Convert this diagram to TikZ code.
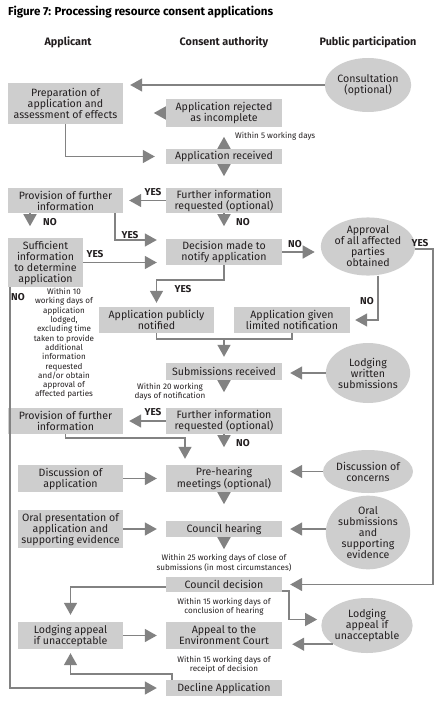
\documentclass[tikz,border=0pt]{standalone}
\usepackage{fontspec}
\setmainfont{Fira Sans}
\usetikzlibrary{arrows.meta,shapes.geometric}
\definecolor{boxgray}{RGB}{206,206,206}
\definecolor{linegray}{RGB}{130,130,130}
\definecolor{txt}{RGB}{35,31,32}
\begin{document}
\begin{tikzpicture}[x=1pt,y=-1pt,
  every node/.style={text=txt},
  box/.style={fill=boxgray, inner sep=0pt, align=center, font=\fontsize{10.6}{11}\selectfont},
  ell/.style={ellipse, fill=boxgray, inner sep=0pt, align=center, font=\fontsize{10.6}{11}\selectfont},
  arr/.style={draw=linegray, line width=1.5pt, -{Triangle[length=12pt,width=13pt]}},
  ln/.style={draw=linegray, line width=1.5pt},
  yn/.style={font=\bfseries\fontsize{10}{11}\selectfont, inner sep=0pt},
  note/.style={font=\fontsize{8.1}{9.3}\selectfont, align=center, inner sep=0pt},
  head/.style={font=\bfseries\fontsize{10.8}{12}\selectfont, inner sep=0pt}]
\useasboundingbox[fill=white] (0,0) rectangle (440,701);

\node[font=\bfseries\fontsize{11.6}{13}\selectfont, anchor=west, inner sep=0pt, text=black] (title) at (8,12) {Figure 7: Processing resource consent applications};
\node[head] (hA) at (68,42) {Applicant};
\node[head] (hC) at (224,42) {Consent authority};
\node[head] (hP) at (368,42) {Public participation};

% boxes
\node[box, minimum width=115pt, minimum height=41pt] (prep) at (65.5,103.5) {Preparation of\\application and\\assessment of effects};
\node[box, minimum width=116pt, minimum height=28pt] (rej) at (224,113) {Application rejected\\as incomplete};
\node[box, minimum width=116pt, minimum height=15pt] (recv) at (224,156.5) {Application received};
\node[box, minimum width=115pt, minimum height=25pt] (prov1) at (65.5,200.5) {Provision of further\\information};
\node[box, minimum width=116pt, minimum height=25pt] (fir1) at (224,200.5) {Further information\\requested (optional)};
\node[box, minimum width=75pt, minimum height=49pt] (suff) at (45.5,262.5) {Sufficient\\information\\to determine\\application};
\node[box, minimum width=116pt, minimum height=26pt] (dec) at (224,252) {Decision made to\\notify application};
\node[box, minimum width=115pt, minimum height=26pt] (pub) at (156.5,320) {Application publicly\\notified};
\node[box, minimum width=116pt, minimum height=26pt] (lim) at (292,320) {Application given\\limited notification};
\node[box, minimum width=116pt, minimum height=17pt] (subrec) at (224,371.5) {Submissions received};
\node[box, minimum width=115pt, minimum height=26pt] (prov2) at (65.5,421) {Provision of further\\information};
\node[box, minimum width=116pt, minimum height=26pt] (fir2) at (224,421) {Further information\\requested (optional)};
\node[box, minimum width=105pt, minimum height=27pt] (disc) at (70.5,478.5) {Discussion of\\application};
\node[box, minimum width=116pt, minimum height=27pt] (preh) at (224,478.5) {Pre-hearing\\meetings (optional)};
\node[box, minimum width=105pt, minimum height=38pt] (oral) at (70.5,529) {Oral presentation of\\application and\\supporting evidence};
\node[box, minimum width=116pt, minimum height=16pt] (hear) at (224,529) {Council hearing};
\node[box, minimum width=116pt, minimum height=15pt] (cdec) at (224,584.5) {Council decision};
\node[box, minimum width=105pt, minimum height=27pt] (lapp) at (70.5,635.5) {Lodging appeal\\if unacceptable};
\node[box, minimum width=116pt, minimum height=27pt] (envc) at (224,635.5) {Appeal to the\\Environment Court};
\node[box, minimum width=116pt, minimum height=16pt] (decl) at (224,688) {Decline Application};

% ellipses
\node[ell, minimum width=80pt, minimum height=54pt] (cons) at (368,85) {Consultation\\(optional)};
\node[ell, minimum width=80pt, minimum height=53pt] (appr) at (368,246.5) {Approval\\of all affected\\parties\\obtained};
\node[ell, minimum width=78pt, minimum height=60pt] (lws) at (368,373) {Lodging\\written\\submissions};
\node[ell, minimum width=78pt, minimum height=43pt] (conc) at (368,471.5) {Discussion of\\concerns};
\node[ell, minimum width=78pt, minimum height=65pt] (orsub) at (368,532.5) {Oral\\submissions\\and\\supporting\\evidence};
\node[ell, minimum width=76pt, minimum height=55pt] (lodge) at (367,625.5) {Lodging\\appeal if\\unacceptable};

% notes
\node[note, anchor=west] (n5) at (235,136) {Within 5 working days};
\node[note] (n10) at (64,343.5) {Within 10\\working days of\\application\\lodged,\\excluding time\\taken to provide\\additional\\information\\requested\\and/or obtain\\approval of\\affected parties};
\node[note] (n20) at (170,392) {Within 20 working\\days of notification};
\node[note] (n25) at (224,563) {Within 25 working days of close of\\submissions (in most circumstances)};
\node[note] (n15a) at (224,607) {Within 15 working days of\\conclusion of hearing};
\node[note] (n15b) at (224,664.5) {Within 15 working days of\\receipt of decision};

% yes / no labels
\node[yn] (y1) at (153,192) {YES};
\node[yn] (no1) at (50,222) {NO};
\node[yn] (no2) at (243,222) {NO};
\node[yn] (y2) at (130,235) {YES};
\node[yn] (y3) at (95,254) {YES};
\node[yn] (no3) at (295,244) {NO};
\node[yn] (y4) at (420,243) {YES};
\node[yn] (no4) at (367,301) {NO};
\node[yn] (y5) at (183,289) {YES};
\node[yn] (no5) at (18,297) {NO};
\node[yn] (y6) at (153,412) {YES};
\node[yn] (no6) at (243,443) {NO};

% connectors
\draw[arr, shorten >=7pt] (cons.west) -- (cons.west -| prep.east);
\draw[arr] (rej.west) -- ++(-12,0);
\draw[arr] (recv.north) -- ++(0,-12);
\draw[arr] (prep.south) |- ([xshift=-11pt]recv.west);
\draw[arr] (recv.south) -- ++(0,12);
\draw[arr, shorten >=6pt] (fir1.west) -- (prov1.east);
\draw[arr] ([xshift=-35.5pt]prov1.south) -- ++(0,13);
\draw[arr] (fir1.south) -- ++(0,13);
\draw[arr] ([xshift=49.5pt]prov1.south) |- ([xshift=-9pt,yshift=12pt]dec.west);
\draw[arr, shorten >=9pt] (suff.east) -- (suff.east -| dec.west);
\draw[arr, shorten >=6pt] (dec.east) -- (dec.east -| appr.west);
\coordinate (yesR) at (433,249);
\draw[arr] ([yshift=-2.5pt]appr.east) -- ([yshift=-2.5pt]appr.east -| yesR) -- (yesR |- cdec.east) -- ([xshift=8pt]cdec.east);
\draw[arr] ([xshift=10pt]appr.south) |- ([xshift=5pt]lim.east);
\draw[arr] (dec.south) -- ++(0,15) -| ([yshift=4pt]pub.north);
\coordinate (join) at (224,339);
\draw[ln] (pub.south) |- (lim.south |- join) -- (lim.south);
\draw[arr] (join) -- ([yshift=6pt]subrec.north);
\draw[arr, shorten >=8pt] (lws.west) -- (lws.west -| subrec.east);
\draw[arr] (subrec.south) -- ++(0,12);
\draw[arr, shorten >=6pt] (fir2.west) -- (prov2.east);
\draw[arr] (fir2.south) -- ++(0,13);
\draw[arr] (prov2.south) -- ++(0,4) -| ([xshift=-39pt,yshift=6pt]preh.north);
\draw[arr, shorten >=9pt] (disc.east) -- (preh.west);
\draw[arr, shorten >=8pt] (conc.west) -- (conc.west -| preh.east);
\draw[arr] (preh.south) -- ++(0,12);
\draw[arr, shorten >=9pt] (oral.east) -- (hear.west);
\draw[arr, shorten >=8pt] (hear.east -| orsub.west) -- (hear.east);
\draw[arr] (hear.south) -- ++(0,12);
\draw[arr] ([yshift=-2.5pt]cdec.west) -| ([yshift=7pt]lapp.north);
\draw[arr] ([yshift=1pt]cdec.south east) -- ++(7,0) |- ([xshift=-4pt,yshift=6pt]lodge.west);
\draw[arr, shorten >=10pt] (lodge.209.5) -- (lodge.209.5 -| envc.east);
\draw[arr, shorten >=9pt] (lapp.east) -- (envc.west);
\draw[arr] ([xshift=-52pt]decl.north) -- ++(0,-6) -| ([yshift=-4pt]lapp.south);
\draw[arr] ([xshift=-35.5pt]suff.south) |- ([xshift=-9pt]decl.west);
\end{tikzpicture}
\end{document}
